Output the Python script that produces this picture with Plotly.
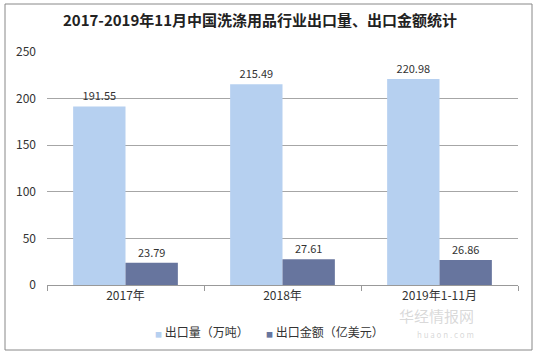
import plotly.graph_objects as go

categories = ["2017年", "2018年", "2019年1-11月"]
volume = [191.55, 215.49, 220.98]
amount = [23.79, 27.61, 26.86]
series_names = ["出口量（万吨）", "出口金额（亿美元）"]
series_colors = ["#B6D0F0", "#67759E"]
title = "2017-2019年11月中国洗涤用品行业出口量、出口金额统计"
watermark = ["华经情报网", "h u a o n . c o m"]

font_family = "Noto Sans CJK SC, Liberation Sans, Arial, sans-serif"

fig = go.Figure()
for name, vals, col in zip(series_names, [volume, amount], series_colors):
    fig.add_trace(go.Bar(
        x=categories, y=vals, name=name, showlegend=False,
        marker=dict(color=col, line=dict(width=0)),
        text=[f"{v:.2f}" for v in vals], textposition="outside",
        textfont=dict(size=11, color="#333333"), cliponaxis=False,
    ))

L, R, T, B = 47, 22, 52, 73
W, H = 540, 358
pw, ph = W - L - R, H - T - B

def px_to_paper_x(px):
    return (px - L) / pw

def px_to_paper_y(py):
    return (H - B - py) / ph

# legend built as annotations (small square markers like the reference)
legend_x = [157, 268]
annotations = []
for name, col, lx in zip(series_names, series_colors, legend_x):
    annotations.append(dict(
        text=f'<span style="color:{col};font-size:7px">■</span> {name}',
        xref="paper", yref="paper", x=px_to_paper_x(lx - 4), y=px_to_paper_y(331),
        xanchor="left", yanchor="middle", showarrow=False,
        font=dict(size=12, color="#333333")))

annotations += [
    dict(text=watermark[0], xref="paper", yref="paper", x=px_to_paper_x(476), y=px_to_paper_y(328),
         showarrow=False, font=dict(size=15, color="rgba(185,185,185,0.55)")),
    dict(text=watermark[1], xref="paper", yref="paper", x=px_to_paper_x(476), y=px_to_paper_y(342),
         showarrow=False, font=dict(size=8, color="rgba(185,185,185,0.55)")),
]

fig.update_layout(
    width=W, height=H,
    margin=dict(l=L, r=R, t=T, b=B, autoexpand=False),
    paper_bgcolor="white", plot_bgcolor="white",
    barmode="group", bargap=0.333, bargroupgap=0,
    font=dict(family=font_family, size=12, color="#333333"),
    title=dict(text="<b>" + title + "</b>", x=260 / W, xref="container", xanchor="center",
               y=1 - 21 / H, yanchor="middle",
               font=dict(size=15, color="#222222", family="Noto Sans CJK SC, sans-serif")),
    showlegend=False,
    xaxis=dict(showline=True, linecolor="#999999", linewidth=1,
               ticks="outside", tickson="boundaries", ticklen=5, tickcolor="#999999",
               tickfont=dict(size=12, color="#333333"), showgrid=False, automargin=False),
    yaxis=dict(range=[0, 250], dtick=50, showgrid=True, gridcolor="#A6A6A6", gridwidth=1,
               showline=False, zeroline=False, ticks="", ticklabelstandoff=10,
               tickfont=dict(size=12, color="#333333"), automargin=False),
    shapes=[dict(type="rect", xref="paper", yref="paper",
                 x0=px_to_paper_x(5), x1=px_to_paper_x(532),
                 y0=px_to_paper_y(350), y1=px_to_paper_y(4),
                 line=dict(color="#888888", width=1), fillcolor="rgba(0,0,0,0)", layer="below")],
    annotations=annotations,
)

fig.write_html("out.html", config={"displayModeBar": False},
               post_script="document.body.style.margin='0';document.body.style.padding='0';")
